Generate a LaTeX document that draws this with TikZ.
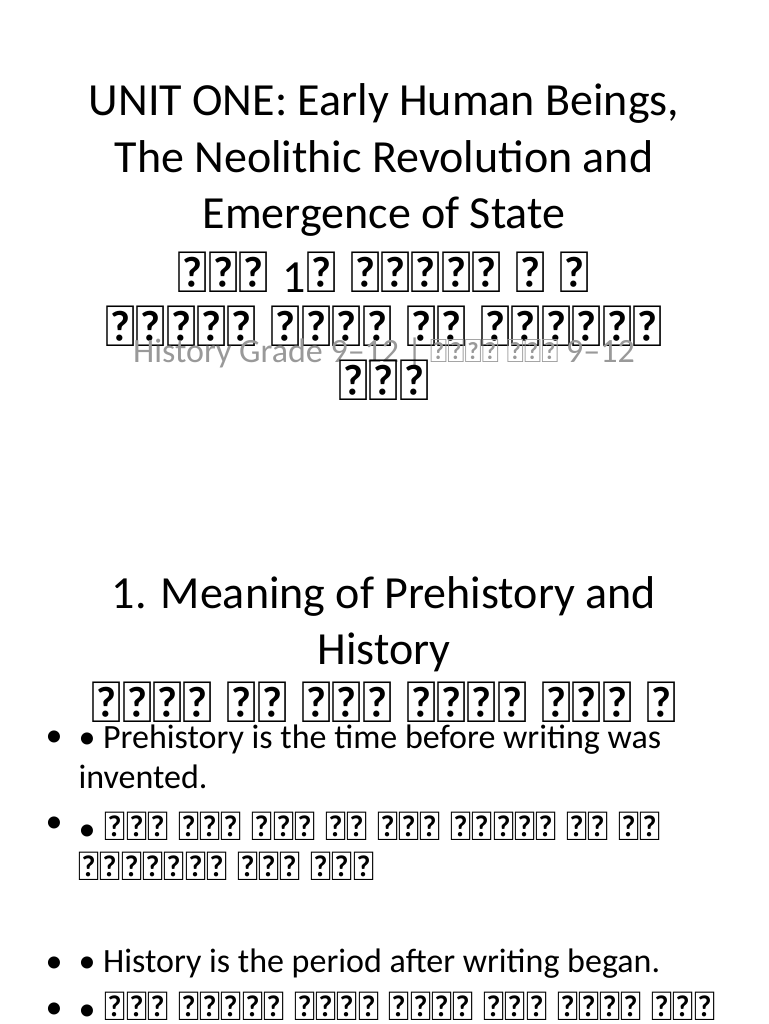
\documentclass[tikz,border=0pt]{standalone}
\usepackage{fontspec}
\setmainfont{Carlito}
\begin{document}
\begin{tikzpicture}[x=1pt,y=-1pt,
 title/.style={anchor=base,align=center,font=\fontsize{46}{56}\selectfont},
 amh/.style={anchor=base,align=center,font=\fontsize{60}{54}\selectfont},
 sub/.style={anchor=base,text=black!40,font=\fontsize{34}{30}\selectfont},
 bul/.style={anchor=base west,font=\fontsize{34}{40}\selectfont},
 bam/.style={anchor=base west,font=\fontsize{42}{40}\selectfont},
 dot/.style={anchor=base west,font=\fontsize{34}{40}\selectfont}]
\useasboundingbox (0,0) rectangle (768,1024);
\node[title] (t1) at (384,116) {UNIT ONE: Early Human Beings,};
\node[title] (t2) at (384,173) {The Neolithic Revolution and};
\node[title] (t3) at (384,229) {Emergence of State};
\node[amh] (a1) at (384,292) {ክፍል {\fontsize{46}{50}\selectfont 1}፡ የጥንታዊ ሰ ዎ};
\node[amh] (a2) at (384,346) {የአዲሱን ድንጋይ ዘመ አብዮታዊና};
\node[sub] (s) at (384,362) {History Grade 9–12 | የታሪክ ክፍል 9–12};
\node[amh] (a3) at (384,400) {መንግ};
\node[title] (h1) at (384,608) {1. Meaning of Prehistory and};
\node[title] (h2) at (384,664) {History};
\node[amh] (h3) at (384,722) {የቅድመ ታሪ ታሪክ ትርጉም ምንነ ና};
\foreach \y/\n in {746/b1,832/b2,972/b3,1018/b4}{\node[dot] (\n) at (42,\y) {•};}
\node[bul] (l1) at (75,748) {• Prehistory is the time before writing was};
\node[bul] (l2) at (75,788) {invented.};
\node[bam] (l3) at (75,840) {{\fontsize{34}{40}\selectfont •} ቅድመ ታሪክ ጽሕፈ ከመ ፈጠሩ በፊትያለ ጊዜ ነው};
\node[bam] (l4) at (75,880) {የሚያመለክተ ወቅት ነው።};
\node[bul] (l5) at (75,972) {• History is the period after writing began.};
\node[bam] (l6) at (75,1020) {{\fontsize{34}{40}\selectfont •} ታሪክ ጽሕፈትከ ጀመረበ በኋላያ ያለው ወቅትነ ነው።};
\end{tikzpicture}
\end{document}
